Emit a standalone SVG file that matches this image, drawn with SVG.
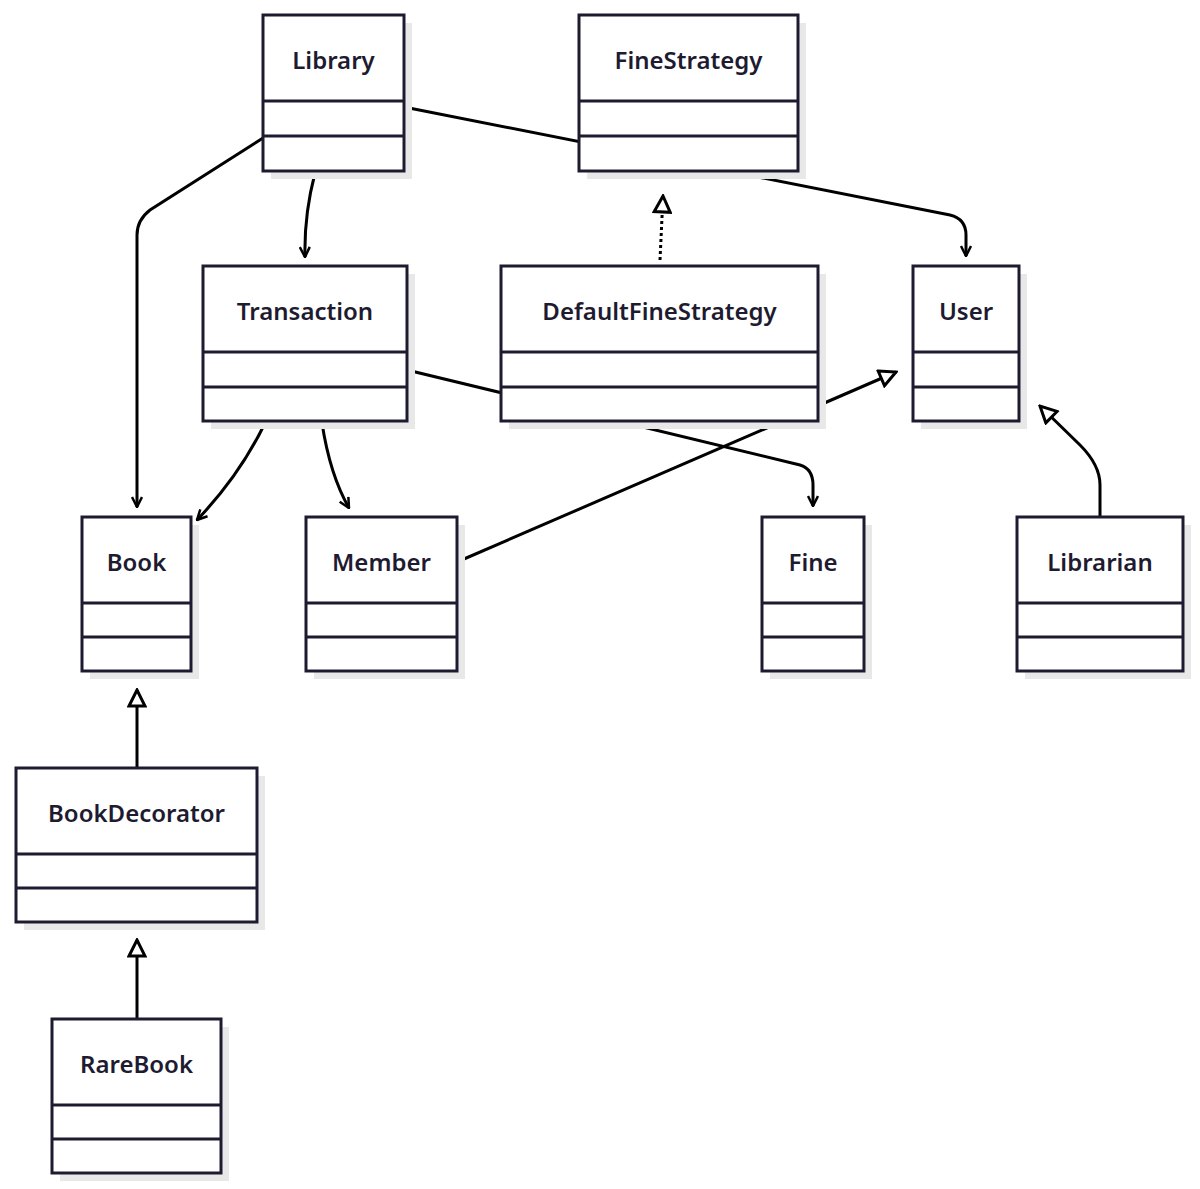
<svg xmlns="http://www.w3.org/2000/svg" width="1200" height="1189" viewBox="0 0 1200 1189">
<style>
.sh{fill:#e8e8e8}
.bx{fill:#fff;stroke:#1e1b30;stroke-width:3}
.dv{stroke:#1e1b30;stroke-width:3}
.t{font-family:"Noto Sans","DejaVu Sans",sans-serif;font-weight:600;font-size:24px;fill:#1e1b30;text-anchor:middle}
.e{fill:none;stroke:#000;stroke-width:3}
</style>
<defs>
<marker id="a" viewBox="0 0 12 12" refX="11" refY="6" markerWidth="12" markerHeight="12" markerUnits="userSpaceOnUse" orient="auto"><path d="M1,1 L11,6 L1,11" fill="none" stroke="#000" stroke-width="2.5"/></marker>
<marker id="tri" viewBox="0 0 20 20" refX="18" refY="10" markerWidth="20" markerHeight="20" markerUnits="userSpaceOnUse" orient="auto"><path d="M2,2 L18,10 L2,18 Z" fill="#fff" stroke="#000" stroke-width="3"/></marker>
</defs>
<g id="connectors">
<path class="e" d="M263,138 L150,210 Q137,220 137,235 L137,507" marker-end="url(#a)"/>
<path class="e" d="M315,173 Q304,215 305,257" marker-end="url(#a)"/>
<path class="e" d="M404,107 L950,215 Q966,219 966,235 L966,256" marker-end="url(#a)"/>
<path class="e" d="M660,260 L663,196" stroke-dasharray="3,3" marker-end="url(#tri)"/>
<path class="e" d="M265,423 Q240,475 197,520" marker-end="url(#a)"/>
<path class="e" d="M322,423 Q330,475 349,508" marker-end="url(#a)"/>
<path class="e" d="M407,370 L800,465 Q813,469 813,485 L813,506" marker-end="url(#a)"/>
<path class="e" d="M457,562 L896,372" marker-end="url(#tri)"/>
<path class="e" d="M1100,517 L1100,485 Q1100,465 1080,445 L1040,406" marker-end="url(#tri)"/>
<path class="e" d="M137,768 L137,690" marker-end="url(#tri)"/>
<path class="e" d="M137,1019 L137,940" marker-end="url(#tri)"/>
</g>
<g id="Library"><rect class="sh" x="271" y="23" width="141" height="156"/><rect class="bx" x="263" y="15" width="141" height="156"/><line class="dv" x1="263" y1="101" x2="404" y2="101"/><line class="dv" x1="263" y1="136" x2="404" y2="136"/><text class="t" x="333.5" y="69">Library</text></g>
<g id="FineStrategy"><rect class="sh" x="587" y="23" width="219" height="156"/><rect class="bx" x="579" y="15" width="219" height="156"/><line class="dv" x1="579" y1="101" x2="798" y2="101"/><line class="dv" x1="579" y1="136" x2="798" y2="136"/><text class="t" x="688.5" y="69">FineStrategy</text></g>
<g id="Transaction"><rect class="sh" x="211" y="274" width="204" height="155"/><rect class="bx" x="203" y="266" width="204" height="155"/><line class="dv" x1="203" y1="352" x2="407" y2="352"/><line class="dv" x1="203" y1="387" x2="407" y2="387"/><text class="t" x="305" y="320">Transaction</text></g>
<g id="DefaultFineStrategy"><rect class="sh" x="509" y="274" width="317" height="155"/><rect class="bx" x="501" y="266" width="317" height="155"/><line class="dv" x1="501" y1="352" x2="818" y2="352"/><line class="dv" x1="501" y1="387" x2="818" y2="387"/><text class="t" x="659.5" y="320">DefaultFineStrategy</text></g>
<g id="User"><rect class="sh" x="921" y="274" width="106" height="155"/><rect class="bx" x="913" y="266" width="106" height="155"/><line class="dv" x1="913" y1="352" x2="1019" y2="352"/><line class="dv" x1="913" y1="387" x2="1019" y2="387"/><text class="t" x="966" y="320">User</text></g>
<g id="Book"><rect class="sh" x="90" y="525" width="109" height="154"/><rect class="bx" x="82" y="517" width="109" height="154"/><line class="dv" x1="82" y1="603" x2="191" y2="603"/><line class="dv" x1="82" y1="637" x2="191" y2="637"/><text class="t" x="136.5" y="571">Book</text></g>
<g id="Member"><rect class="sh" x="314" y="525" width="151" height="154"/><rect class="bx" x="306" y="517" width="151" height="154"/><line class="dv" x1="306" y1="603" x2="457" y2="603"/><line class="dv" x1="306" y1="637" x2="457" y2="637"/><text class="t" x="381.5" y="571">Member</text></g>
<g id="Fine"><rect class="sh" x="770" y="525" width="102" height="154"/><rect class="bx" x="762" y="517" width="102" height="154"/><line class="dv" x1="762" y1="603" x2="864" y2="603"/><line class="dv" x1="762" y1="637" x2="864" y2="637"/><text class="t" x="813" y="571">Fine</text></g>
<g id="Librarian"><rect class="sh" x="1025" y="525" width="166" height="154"/><rect class="bx" x="1017" y="517" width="166" height="154"/><line class="dv" x1="1017" y1="603" x2="1183" y2="603"/><line class="dv" x1="1017" y1="637" x2="1183" y2="637"/><text class="t" x="1100" y="571">Librarian</text></g>
<g id="BookDecorator"><rect class="sh" x="24" y="776" width="241" height="154"/><rect class="bx" x="16" y="768" width="241" height="154"/><line class="dv" x1="16" y1="854" x2="257" y2="854"/><line class="dv" x1="16" y1="888" x2="257" y2="888"/><text class="t" x="136.5" y="822">BookDecorator</text></g>
<g id="RareBook"><rect class="sh" x="60" y="1027" width="169" height="154"/><rect class="bx" x="52" y="1019" width="169" height="154"/><line class="dv" x1="52" y1="1105" x2="221" y2="1105"/><line class="dv" x1="52" y1="1139" x2="221" y2="1139"/><text class="t" x="136.5" y="1073">RareBook</text></g>
</svg>
